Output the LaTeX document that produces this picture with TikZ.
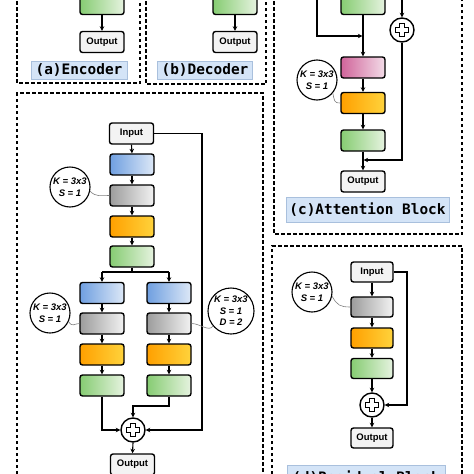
\documentclass[tikz,border=0pt]{standalone}
\usepackage{fontspec}
\setmainfont{Liberation Sans}
\newfontfamily\labfont{DejaVu Sans Mono}
\usetikzlibrary{arrows.meta}
\definecolor{bluL}{HTML}{6F9FE0}\definecolor{bluR}{HTML}{DDE8F7}
\definecolor{gryL}{HTML}{9C9C9C}\definecolor{gryR}{HTML}{F2F2F2}
\definecolor{orgL}{HTML}{FFA000}\definecolor{orgR}{HTML}{FFD33C}
\definecolor{grnL}{HTML}{86CC72}\definecolor{grnR}{HTML}{E6F3E0}
\definecolor{pnkL}{HTML}{D0649A}\definecolor{pnkR}{HTML}{F3DCE8}
\definecolor{labF}{HTML}{D4E4F7}\definecolor{labD}{HTML}{A9C0DD}
\definecolor{ioF}{HTML}{F3F3F3}
\tikzset{
 blk/.style={rectangle,rounded corners=2.5pt,minimum width=44pt,minimum height=21pt,line width=1.4pt,draw=black,inner sep=0pt},
 io/.style={blk,fill=ioF,font=\bfseries\fontsize{9.5}{11}\selectfont},
 bluebox/.style={blk,left color=bluL,right color=bluR},
 graybox/.style={blk,left color=gryL,right color=gryR},
 orangebox/.style={blk,left color=orgL,right color=orgR},
 greenbox/.style={blk,left color=grnL,right color=grnR},
 pinkbox/.style={blk,left color=pnkL,right color=pnkR},
 lab/.style={rectangle,fill=labF,draw=labD,line width=0.8pt,inner sep=0pt,font=\labfont\bfseries\fontsize{14.4}{16}\selectfont},
 panel/.style={dashed,dash pattern=on 3.5pt off 2.5pt,line width=1.3pt},
 arr/.style={line width=1.1pt,-{Stealth[length=4.5pt,width=4.5pt]}},
 ln/.style={line width=1.1pt},
 kc/.style={circle,draw,line width=1.1pt,fill=white,inner sep=0pt,align=center,font=\bfseries\itshape\fontsize{9.5}{11.5}\selectfont},
 pls/.style={circle,draw,line width=1.4pt,fill=white,minimum size=24pt,inner sep=0pt},
 conn/.style={draw=gray,line width=0.6pt}
}
\newcommand{\plusmark}[1]{\draw[line width=1.3pt,shift={(#1.center)}] (-2.2,-6.5) -- (2.2,-6.5) -- (2.2,-2.2) -- (6.5,-2.2) -- (6.5,2.2) -- (2.2,2.2) -- (2.2,6.5) -- (-2.2,6.5) -- (-2.2,2.2) -- (-6.5,2.2) -- (-6.5,-2.2) -- (-2.2,-2.2) -- cycle;}
\begin{document}
\begin{tikzpicture}[x=1pt,y=-1pt]
\useasboundingbox (0,0) rectangle (474,474);
\fill[white] (0,0) rectangle (474,474);
% ---------- panels
\draw[panel] (17,-5) -- (17,83) -- (140,83) -- (140,-5);
\draw[panel] (146,-5) -- (146,84) -- (266,84) -- (266,-5);
\draw[panel] (274,-5) -- (274,234) -- (462,234) -- (462,-5);
\draw[panel] (17,480) -- (17,93) -- (263,93) -- (263,480);
\draw[panel] (272,480) -- (272,246) -- (462,246) -- (462,480);
% ---------- (a) Encoder
\node[greenbox] (a_g) at (102,4) {};
\node[io] (a_o) at (102,42) {Output};
\draw[arr] (a_g.south) -- (a_o.north);
\node[lab,minimum width=96pt,minimum height=18pt] (a_l) at (79,70) {(a)Encoder};
% ---------- (b) Decoder
\node[greenbox] (b_g) at (235,4) {};
\node[io] (b_o) at (235,42) {Output};
\draw[arr] (b_g.south) -- (b_o.north);
\node[lab,minimum width=95pt,minimum height=18pt] (b_l) at (205,70) {(b)Decoder};
% ---------- (c) Attention block
\node[greenbox] (c_g) at (363,4) {};
\node[pinkbox] (c_p) at (363,67.5) {};
\node[orangebox] (c_or) at (363,103) {};
\node[greenbox] (c_g2) at (363,140.5) {};
\node[io] (c_o) at (363,181.5) {Output};
\node[pls] (c_plus) at (402,30) {};
\plusmark{c_plus}
\coordinate (c_t1) at (317,-5);
\coordinate (c_t2) at (317,36);
\coordinate (c_m) at (362.4,36);
\coordinate (c_t3) at (402,-5);
\coordinate (c_r) at (402,160);
\coordinate (c_m2) at (363.6,160);
\draw[arr] (c_g.south) -- (c_p.north);
\draw[arr] (c_t1) -- (c_t2) -- (c_m);
\draw[arr] (c_p.south) -- (c_or.north);
\draw[arr] (c_or.south) -- (c_g2.north);
\draw[arr] (c_g2.south) -- (c_o.north);
\draw[arr] (c_t3) -- (c_plus.north);
\draw[arr] (c_plus.south) -- (c_r) -- (c_m2);
\node[kc,minimum size=40pt] (c_k) at (317,80) {K = 3x3\\S = 1};
\draw[conn] (c_k.-40) .. controls +(2,7) and +(-7,0) .. (c_or.west);
\node[lab,minimum width=163pt,minimum height=25pt] (c_l) at (367.5,209.5) {(c)Attention Block};
% ---------- (e) main block
\node[io] (e_in) at (131.5,133.5) {Input};
\node[bluebox] (e_b) at (132,164.5) {};
\node[graybox] (e_gr) at (132,195.5) {};
\node[orangebox] (e_o) at (132,226.5) {};
\node[greenbox] (e_g) at (132,256.5) {};
\draw[arr] (e_in.south) -- (e_b.north);
\draw[arr] (e_b.south) -- (e_gr.north);
\draw[arr] (e_gr.south) -- (e_o.north);
\draw[arr] (e_o.south) -- (e_g.north);
\coordinate (e_s) at (132,272);
\coordinate (e_sl) at (102,272);
\coordinate (e_sr) at (169,272);
\draw[ln] (e_g.south) -- (e_s);
\draw[ln] (e_sl) -- (e_sr);
\node[bluebox] (e_lb) at (102,293) {};
\node[graybox] (e_lgr) at (102,323.5) {};
\node[orangebox] (e_lo) at (102,354.5) {};
\node[greenbox] (e_lg) at (102,385.5) {};
\node[bluebox] (e_rb) at (169,293) {};
\node[graybox] (e_rgr) at (169,323.5) {};
\node[orangebox] (e_ro) at (169,354.5) {};
\node[greenbox] (e_rg) at (169,385.5) {};
\draw[arr] (e_sl) -- (e_lb.north);
\draw[arr] (e_sr) -- (e_rb.north);
\draw[arr] (e_lb.south) -- (e_lgr.north);
\draw[arr] (e_lgr.south) -- (e_lo.north);
\draw[arr] (e_lo.south) -- (e_lg.north);
\draw[arr] (e_rb.south) -- (e_rgr.north);
\draw[arr] (e_rgr.south) -- (e_ro.north);
\draw[arr] (e_ro.south) -- (e_rg.north);
\node[pls] (e_plus) at (133,430) {};
\plusmark{e_plus}
\coordinate (e_j) at (169,406);
\coordinate (e_c) at (202,133.5);
\draw[arr] (e_lg.south) |- (e_plus.west);
\draw[arr] (e_rg.south) -- (e_j) -| (e_plus.north);
\draw[arr] (e_in.east) -- (e_c) |- (e_plus.east);
\node[io] (e_out) at (132.5,464.5) {Output};
\draw[arr] (e_plus.south) -- (e_out.north);
\node[kc,minimum size=40pt] (e_k1) at (70,187) {K = 3x3\\S = 1};
\draw[conn] (e_k1.-12) .. controls +(6,6) and +(-8,0) .. (e_gr.west);
\node[kc,minimum size=40pt] (e_k2) at (50,313) {K = 3x3\\S = 1};
\draw[conn] (e_k2.-25) .. controls +(4,6) and +(-5,0) .. (e_lgr.west);
\node[kc,minimum size=46pt] (e_k3) at (231,311) {K = 3x3\\S = 1\\D = 2};
\draw[conn] (e_k3.220) .. controls +(-4,6) and +(8,0) .. (e_rgr.east);
% ---------- (d) residual block
\node[io,minimum width=42pt,minimum height=20pt] (d_in) at (372,272) {Input};
\node[graybox,minimum width=42pt,minimum height=20pt] (d_gr) at (372,307) {};
\node[orangebox,minimum width=42pt,minimum height=20pt] (d_o) at (372,338) {};
\node[greenbox,minimum width=42pt,minimum height=20pt] (d_g) at (372,368.5) {};
\node[pls] (d_plus) at (372,405) {};
\plusmark{d_plus}
\node[io,minimum width=42pt,minimum height=20pt] (d_out) at (372,438) {Output};
\draw[arr] (d_in.south) -- (d_gr.north);
\draw[arr] (d_gr.south) -- (d_o.north);
\draw[arr] (d_o.south) -- (d_g.north);
\draw[arr] (d_g.south) -- (d_plus.north);
\draw[arr] (d_plus.south) -- (d_out.north);
\coordinate (d_c) at (407,272);
\draw[arr] (d_in.east) -- (d_c) |- (d_plus.east);
\node[kc,minimum size=40pt] (d_k) at (312,292) {K = 3x3\\S = 1};
\draw[conn] (d_k.-12) .. controls +(5,9) and +(-10,0) .. (d_gr.west);
\node[lab,minimum width=158pt,minimum height=25pt] (d_l) at (366,477.5) {(d)Residual Block};
\end{tikzpicture}
\end{document}
